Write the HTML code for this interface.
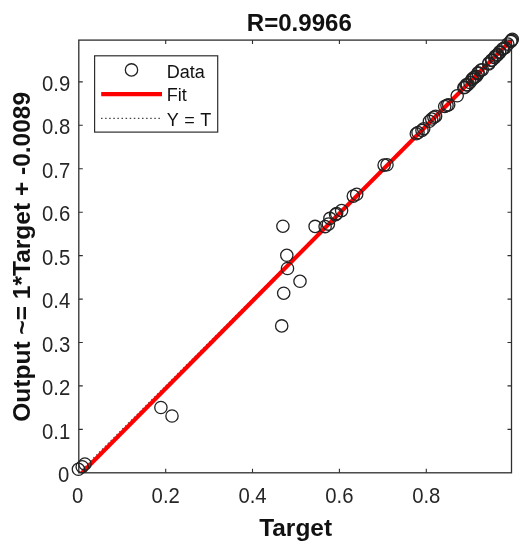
<!DOCTYPE html>
<html><head><meta charset="utf-8"><title>Regression</title>
<style>
html,body{margin:0;padding:0;background:#fff;}
svg{display:block;}
text{font-family:"Liberation Sans",Arial,Helvetica,sans-serif;fill:#262626;}
.tk{font-size:21.6px;}
.b{font-weight:bold;font-size:24.6px;fill:#111;}
.lg{font-size:18.6px;fill:#111;}
</style></head><body>
<svg width="529" height="550" viewBox="0 0 529 550">
<rect x="0" y="0" width="529" height="550" fill="#fff"/>

<defs><clipPath id="c"><rect x="78.8" y="40.1" width="432.7" height="432.7"/></clipPath></defs>
<line x1="78.8" y1="472.8" x2="511.5" y2="40.1" stroke="#444" stroke-width="1.25" stroke-dasharray="1.5 2.6" clip-path="url(#c)"/>
<line x1="73.4" y1="481.5" x2="520.0" y2="31.4" stroke="#ff0000" stroke-width="4.1" clip-path="url(#c)"/>
<rect x="78.8" y="40.1" width="432.7" height="432.7" fill="none" stroke="#2e2e2e" stroke-width="1.3"/>
<path d="M165.7 472.8v-4.0M165.7 40.1v4.0M252.5 472.8v-4.0M252.5 40.1v4.0M339.4 472.8v-4.0M339.4 40.1v4.0M426.3 472.8v-4.0M426.3 40.1v4.0M78.8 429.4h4.0M511.5 429.4h-4.0M78.8 385.9h4.0M511.5 385.9h-4.0M78.8 342.5h4.0M511.5 342.5h-4.0M78.8 299.1h4.0M511.5 299.1h-4.0M78.8 255.6h4.0M511.5 255.6h-4.0M78.8 212.2h4.0M511.5 212.2h-4.0M78.8 168.8h4.0M511.5 168.8h-4.0M78.8 125.3h4.0M511.5 125.3h-4.0M78.8 81.9h4.0M511.5 81.9h-4.0" stroke="#2e2e2e" stroke-width="1.1" fill="none"/>
<text class="tk" transform="translate(77.6 503.1) scale(0.94 1)" text-anchor="middle">0</text>
<text class="tk" transform="translate(165.7 503.1) scale(0.94 1)" text-anchor="middle">0.2</text>
<text class="tk" transform="translate(252.5 503.1) scale(0.94 1)" text-anchor="middle">0.4</text>
<text class="tk" transform="translate(339.4 503.1) scale(0.94 1)" text-anchor="middle">0.6</text>
<text class="tk" transform="translate(426.3 503.1) scale(0.94 1)" text-anchor="middle">0.8</text>
<text class="tk" transform="translate(69.3 481.9) scale(0.94 1)" text-anchor="end">0</text>
<text class="tk" transform="translate(70.3 438.5) scale(0.94 1)" text-anchor="end">0.1</text>
<text class="tk" transform="translate(70.3 395.0) scale(0.94 1)" text-anchor="end">0.2</text>
<text class="tk" transform="translate(70.3 351.6) scale(0.94 1)" text-anchor="end">0.3</text>
<text class="tk" transform="translate(70.3 308.2) scale(0.94 1)" text-anchor="end">0.4</text>
<text class="tk" transform="translate(70.3 264.7) scale(0.94 1)" text-anchor="end">0.5</text>
<text class="tk" transform="translate(70.3 221.3) scale(0.94 1)" text-anchor="end">0.6</text>
<text class="tk" transform="translate(70.3 177.9) scale(0.94 1)" text-anchor="end">0.7</text>
<text class="tk" transform="translate(70.3 134.4) scale(0.94 1)" text-anchor="end">0.8</text>
<text class="tk" transform="translate(70.3 91.0) scale(0.94 1)" text-anchor="end">0.9</text>
<g fill="none" stroke="#222" stroke-width="1.3"><circle cx="78.4" cy="469.3" r="6.15"/><circle cx="82.2" cy="466.7" r="6.15"/><circle cx="84.9" cy="464.0" r="6.15"/><circle cx="160.9" cy="407.5" r="6.15"/><circle cx="172.0" cy="416.0" r="6.15"/><circle cx="282.9" cy="226.2" r="6.15"/><circle cx="286.8" cy="255.3" r="6.15"/><circle cx="287.5" cy="268.5" r="6.15"/><circle cx="300" cy="281.3" r="6.15"/><circle cx="283.7" cy="293.2" r="6.15"/><circle cx="281.7" cy="325.9" r="6.15"/><circle cx="315.1" cy="226.4" r="6.15"/><circle cx="325.1" cy="226.6" r="6.15"/><circle cx="328.4" cy="224.1" r="6.15"/><circle cx="329.9" cy="218.4" r="6.15"/><circle cx="335.6" cy="214.6" r="6.15"/><circle cx="336.6" cy="213.6" r="6.15"/><circle cx="341.6" cy="210.6" r="6.15"/><circle cx="353.3" cy="196.1" r="6.15"/><circle cx="356.7" cy="194.3" r="6.15"/><circle cx="384.1" cy="165.1" r="6.15"/><circle cx="387" cy="164.8" r="6.15"/><circle cx="416.3" cy="133.8" r="6.15"/><circle cx="418" cy="132.6" r="6.15"/><circle cx="422" cy="130.4" r="6.15"/><circle cx="423.7" cy="128.7" r="6.15"/><circle cx="429.4" cy="121.3" r="6.15"/><circle cx="431.7" cy="119" r="6.15"/><circle cx="433.9" cy="117.3" r="6.15"/><circle cx="435.6" cy="116.2" r="6.15"/><circle cx="444.7" cy="106.5" r="6.15"/><circle cx="447" cy="105.4" r="6.15"/><circle cx="448.7" cy="104.8" r="6.15"/><circle cx="457.2" cy="95.8" r="6.15"/><circle cx="463.8" cy="87.8" r="6.15"/><circle cx="464.8" cy="87.3" r="6.15"/><circle cx="466.3" cy="84.8" r="6.15"/><circle cx="467.4" cy="84.9" r="6.15"/><circle cx="469.9" cy="82.5" r="6.15"/><circle cx="472.0" cy="79.5" r="6.15"/><circle cx="472.5" cy="78.9" r="6.15"/><circle cx="473.9" cy="77.7" r="6.15"/><circle cx="474.6" cy="77.0" r="6.15"/><circle cx="476.3" cy="76.3" r="6.15"/><circle cx="478.0" cy="73.6" r="6.15"/><circle cx="478.1" cy="72.8" r="6.15"/><circle cx="481.0" cy="70.1" r="6.15"/><circle cx="482.4" cy="69.8" r="6.15"/><circle cx="488.7" cy="64.0" r="6.15"/><circle cx="488.8" cy="63.1" r="6.15"/><circle cx="491.5" cy="60.4" r="6.15"/><circle cx="492.1" cy="60.0" r="6.15"/><circle cx="494.7" cy="57.7" r="6.15"/><circle cx="495.2" cy="56.3" r="6.15"/><circle cx="497.1" cy="55.1" r="6.15"/><circle cx="497.7" cy="54.5" r="6.15"/><circle cx="499.7" cy="52.6" r="6.15"/><circle cx="499.7" cy="51.8" r="6.15"/><circle cx="502.4" cy="49.2" r="6.15"/><circle cx="503.3" cy="48.5" r="6.15"/><circle cx="505.1" cy="47.7" r="6.15"/><circle cx="507.8" cy="44.1" r="6.15"/><circle cx="510.9" cy="41.4" r="6.15"/><circle cx="511.5" cy="40.4" r="6.15"/><circle cx="512.3" cy="39.3" r="6.15"/></g>
<text class="b" transform="translate(299.3 30.9) scale(0.99 1)" style="font-size:24.3px" text-anchor="middle">R=0.9966</text>
<text class="b" transform="translate(295.6 536.2) scale(0.995 1)" text-anchor="middle">Target</text>
<text class="b" transform="translate(29.7 256.8) rotate(-90) scale(0.997 1)" text-anchor="middle">Output ~= 1*Target + -0.0089</text>
<rect x="94.6" y="55.8" width="123.1" height="76.3" fill="#fff" stroke="#2e2e2e" stroke-width="1.2"/>
<circle cx="131.5" cy="69.9" r="6.15" fill="none" stroke="#222" stroke-width="1.3"/>
<line x1="101.2" y1="94.2" x2="162" y2="94.2" stroke="#ff0000" stroke-width="4.2"/>
<line x1="101" y1="118.4" x2="161" y2="118.4" stroke="#444" stroke-width="1.25" stroke-dasharray="1.5 2.6"/>
<text class="lg" transform="translate(166.8 78.2) scale(0.97 1)">Data</text>
<text class="lg" transform="translate(166.8 101.3) scale(0.97 1)">Fit</text>
<text class="lg" transform="translate(166.8 126) scale(0.97 1)" word-spacing="0.8">Y = T</text>
</svg></body></html>
